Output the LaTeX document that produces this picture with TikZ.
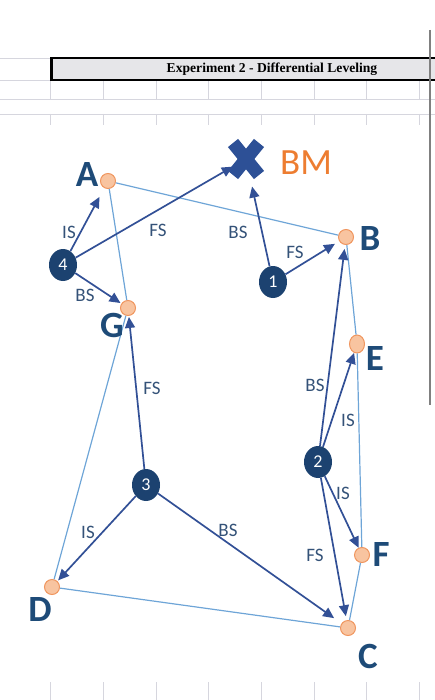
\documentclass[tikz,border=0pt]{standalone}
\usepackage{fontspec}
\setmainfont{Carlito}
\newfontfamily\titlefont{Liberation Serif}
\usetikzlibrary{arrows.meta,shapes.geometric}
\definecolor{gridcol}{RGB}{214,214,222}
\definecolor{barcol}{RGB}{128,128,128}
\definecolor{boxfill}{RGB}{230,230,233}
\definecolor{ptfill}{RGB}{248,196,160}
\definecolor{ptdraw}{RGB}{240,150,95}
\definecolor{edgecol}{RGB}{110,165,215}
\definecolor{arrcol}{RGB}{50,80,150}
\definecolor{stcol}{RGB}{28,66,112}
\definecolor{labcol}{RGB}{52,82,120}
\definecolor{letcol}{RGB}{30,75,120}
\definecolor{bmcol}{RGB}{237,125,49}
\definecolor{xcol}{RGB}{45,80,150}
\begin{document}
\begin{tikzpicture}[x=1pt,y=-1pt,
  grid/.style={draw=gridcol,line width=0.9pt},
  pt/.style={circle,minimum size=15pt,inner sep=0pt,fill=ptfill,draw=ptdraw,line width=1pt},
  station/.style={ellipse,minimum width=28pt,minimum height=32pt,inner sep=0pt,fill=stcol,text=white,font=\fontsize{18}{18}\selectfont},
  edge/.style={draw=edgecol,line width=1.2pt},
  arr/.style={draw=arrcol,line width=1.7pt,-{Triangle[length=11pt,width=10pt]}},
  lab/.style={text=labcol,font=\fontsize{19}{19}\selectfont,inner sep=0pt},
  letter/.style={text=letcol,font=\bfseries\fontsize{37}{37}\selectfont,inner sep=0pt}]
\useasboundingbox (0,0) rectangle (435,700);
% spreadsheet grid
\draw[grid] (0,58) -- (50,58);
\draw[grid] (0,80) -- (50,80);
\draw[grid] (0,99) -- (435,99);
\draw[grid] (0,114) -- (435,114);
\foreach \gx in {50,103,156,208,261,314,366,419}{
  \draw[grid] (\gx,80) -- (\gx,99);
  \draw[grid] (\gx,114) -- (\gx,125);
  \draw[grid] (\gx,682) -- (\gx,700);
}
% title box
\node[draw=black,line width=2.5pt,fill=boxfill,minimum width=395pt,minimum height=22pt,inner sep=0pt,anchor=west] (title) at (50,69) {};
\node[font=\titlefont\bfseries\fontsize{13.6}{13.6}\selectfont,inner sep=0pt] (titletext) at (272,69) {Experiment 2 - Differential Leveling};
% gray bar
\draw[draw=barcol,line width=2.5pt] (430,30) -- (430,405);
% points
\node[pt] (A) at (108,181) {};
\node[pt] (B) at (346,237) {};
\node[pt,ellipse,minimum width=15pt,minimum height=18pt] (E) at (357,344) {};
\node[pt] (F) at (362,555) {};
\node[pt] (C) at (348,628) {};
\node[pt] (D) at (52,587) {};
\node[pt] (G) at (128,308) {};
% benchmark X
\node[circle,minimum size=30pt,inner sep=0pt] (BM) at (246,159) {};
\draw[xcol,line width=13pt] ([shift={(-13,-16)}]BM.center) -- ([shift={(13,16)}]BM.center);
\draw[xcol,line width=13pt] ([shift={(13,-16)}]BM.center) -- ([shift={(-13,16)}]BM.center);
\node[text=bmcol,font=\fontsize{37}{37}\selectfont,inner sep=0pt] (BMlab) at (306,163) {BM};
% stations
\node[station] (S4) at (63,265) {4};
\node[station] (S1) at (273,282) {1};
\node[station] (S3) at (146,485) {3};
\node[station] (S2) at (318,462) {2};
% light edges
\draw[edge] (A) -- (B);
\draw[edge] (A) -- (G);
\draw[edge] (G) -- (D);
\draw[edge] (D) -- (C);
\draw[edge] (C) -- (F);
\draw[edge] (F) -- (E);
\draw[edge] (E) -- (B);
% arrows
\draw[arr,shorten >=10pt] (S4) -- (A);
\draw[arr,shorten >=0pt] (S4) -- (BM);
\draw[arr,shorten >=1pt] (S4) -- (G);
\draw[arr,shorten >=13pt] (S1) -- (BM);
\draw[arr,shorten >=5pt] (S1) -- (B);
\draw[arr,shorten >=1pt] (S3) -- (G);
\draw[arr,shorten >=1pt] (S3) -- (D);
\draw[arr,shorten >=9pt] (S3) -- (C);
\draw[arr,shorten >=4pt] (S2) -- (B);
\draw[arr,shorten >=0pt] (S2) -- (E);
\draw[arr,shorten >=0pt] (S2) -- (F);
\draw[arr,shorten >=4pt] (S2) -- (C);
% arrow labels
\node[lab] (l1) at (69,232) {IS};
\node[lab] (l2) at (158,230) {FS};
\node[lab] (l3) at (85,295) {BS};
\node[lab] (l4) at (238,232) {BS};
\node[lab] (l5) at (295,252) {FS};
\node[lab] (l6) at (152,388) {FS};
\node[lab] (l7) at (88,532) {IS};
\node[lab] (l8) at (228,530) {BS};
\node[lab] (l9) at (315,385) {BS};
\node[lab] (l10) at (348,420) {IS};
\node[lab] (l11) at (343,493) {IS};
\node[lab] (l12) at (315,555) {FS};
% point letters
\node[letter] (lA) at (87,175) {A};
\node[letter] (lB) at (370,239) {B};
\node[letter] (lE) at (375,359) {E};
\node[letter] (lF) at (381,554) {F};
\node[letter] (lC) at (368,656) {C};
\node[letter] (lD) at (40,609) {D};
\node[letter] (lG) at (112,325) {G};
\end{tikzpicture}
\end{document}
